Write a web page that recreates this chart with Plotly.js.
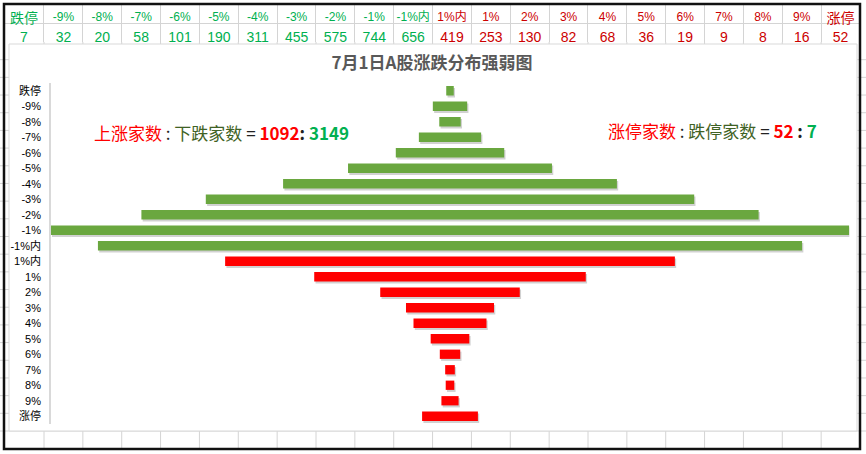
<!DOCTYPE html>
<html>
<head>
<meta charset="utf-8">
<script src="https://cdn.plot.ly/plotly-3.0.1.min.js"></script>
<style>
  html, body { margin: 0; padding: 0; background: #fff; }
  #chart { width: 866px; height: 454px; }
</style>
</head>
<body>
<div id="chart"></div>
<script>
// 涨跌幅区间 and 家数
var bands = ['跌停', '-9%', '-8%', '-7%', '-6%', '-5%', '-4%', '-3%', '-2%', '-1%', '-1%内',
             '1%内', '1%', '2%', '3%', '4%', '5%', '6%', '7%', '8%', '9%', '涨停'];
var counts = [7, 32, 20, 58, 101, 190, 311, 455, 575, 744, 656,
              419, 253, 130, 82, 68, 36, 19, 9, 8, 16, 52];
var nDown = 11; // first 11 bands are falling

var W = 866, H = 454;
function px(x) { return x / W; }
function py(y) { return 1 - y / H; }

var GREEN_BAR = '#6aa73f';
var RED_BAR = '#ff0000';
var GREEN_TXT = '#00b050';
var RED_TXT = '#cc0000';

var barColors = bands.map(function (b, i) { return i < nDown ? GREEN_BAR : RED_BAR; });
var txtColors = bands.map(function (b, i) { return i < nDown ? GREEN_TXT : RED_TXT; });
var bases = counts.map(function (v) { return -v / 2; });

var upTotal = 0, downTotal = 0;
counts.forEach(function (v, i) { if (i < nDown) downTotal += v; else upTotal += v; });
var limitUp = counts[counts.length - 1], limitDown = counts[0];

// soft drop shadow under the bars (excel style)
var shadow = {
  type: 'bar', orientation: 'h',
  y: bands, x: counts, base: bases.map(function (b) { return b + 1.2; }),
  width: 0.6, offset: -0.3 + 0.13,
  marker: { color: 'rgba(0,0,0,0.18)' },
  hoverinfo: 'skip', showlegend: false,
  xaxis: 'x', yaxis: 'y'
};

var bars = {
  type: 'bar', orientation: 'h',
  y: bands, x: counts, base: bases,
  width: 0.6,
  marker: { color: barColors },
  hoverinfo: 'y+text', text: counts.map(String), textposition: 'none',
  showlegend: false,
  xaxis: 'x', yaxis: 'y'
};

// top table
var colW = [40];
for (var i = 1; i < bands.length; i++) colW.push(38.86);
var hdrSizes = bands.map(function (b) { return (b === '跌停' || b === '涨停') ? 14 : 12; });

var table = {
  type: 'table',
  domain: { x: [px(4), px(860)], y: [py(42), py(4)] },
  columnwidth: colW,
  header: {
    values: bands.map(function (b) { return [b]; }),
    height: 19,
    align: 'center',
    line: { color: '#d4d4d4', width: 1 },
    fill: { color: '#ffffff' },
    font: { family: 'Liberation Sans, Noto Sans CJK SC', size: hdrSizes, color: txtColors }
  },
  cells: {
    values: counts.map(function (v) { return [v]; }),
    height: 19,
    align: 'center',
    line: { color: '#d4d4d4', width: 1 },
    fill: { color: '#ffffff' },
    font: { family: 'Liberation Sans, Noto Sans CJK SC', size: 14, color: txtColors }
  }
};

// spreadsheet grid behind the chart box
var shapes = [];
var colEdges = [4, 44];
for (var k = 1; k <= 21; k++) colEdges.push(44 + k * 816 / 21);
colEdges.forEach(function (x) {
  shapes.push({ type: 'line', xref: 'paper', yref: 'paper', layer: 'below',
    x0: px(x), x1: px(x), y0: py(42), y1: py(449), line: { color: '#d4d4d4', width: 1 } });
});
for (var r = 1; r <= 22; r++) {
  var yy = 42 + r * 389 / 22;
  shapes.push({ type: 'line', xref: 'paper', yref: 'paper', layer: 'below',
    x0: px(0), x1: px(866), y0: py(yy), y1: py(yy), line: { color: '#d4d4d4', width: 1 } });
}
// chart box
shapes.push({ type: 'rect', xref: 'paper', yref: 'paper', layer: 'below',
  x0: px(9), x1: px(857), y0: py(431), y1: py(44),
  fillcolor: '#ffffff', line: { color: '#d9d9d9', width: 1 } });
// thick outer border
shapes.push({ type: 'rect', xref: 'paper', yref: 'paper', layer: 'above',
  x0: px(4), x1: px(860), y0: py(449), y1: py(4),
  line: { color: '#111111', width: 2.5 } });

var sep = '<span style="color:#222222"> : </span>';
var annotations = [
  {
    xref: 'paper', yref: 'paper', x: px(92), y: py(132), xanchor: 'left', yanchor: 'middle',
    showarrow: false,
    font: { family: 'Noto Sans CJK SC', size: 17, color: '#222222' },
    text: '<span style="color:#ff0000">上涨家数</span>' + sep +
          '<span style="color:#3f6224">下跌家数</span> = ' +
          '<b><span style="color:#ff0000">' + upTotal + '</span>:</b> ' +
          '<b><span style="color:#00b050">' + downTotal + '</span></b>'
  },
  {
    xref: 'paper', yref: 'paper', x: px(606), y: py(130), xanchor: 'left', yanchor: 'middle',
    showarrow: false,
    font: { family: 'Noto Sans CJK SC', size: 17, color: '#222222' },
    text: '<span style="color:#ff0000">涨停家数</span>' + sep +
          '<span style="color:#3f6224">跌停家数</span> = ' +
          '<b><span style="color:#ff0000">' + limitUp + '</span> : ' +
          '<span style="color:#00b050">' + limitDown + '</span></b>'
  }
];

var layout = {
  width: W, height: H,
  margin: { l: 0, r: 0, t: 0, b: 0 },
  paper_bgcolor: '#ffffff',
  plot_bgcolor: 'rgba(0,0,0,0)',
  barmode: 'overlay',
  showlegend: false,
  title: {
    text: '<b>7月1日A股涨跌分布强弱图</b>',
    x: px(432), xanchor: 'center', y: py(63), yanchor: 'middle',
    font: { family: 'Noto Sans CJK SC', size: 17, color: '#595959' }
  },
  xaxis: {
    domain: [px(50.7), px(849.3)],
    range: [-372, 372],
    visible: false, fixedrange: true
  },
  yaxis: {
    domain: [py(424), py(83)],
    type: 'category',
    range: [21.5, -0.5],
    showgrid: false, zeroline: false,
    showline: true, linecolor: '#d9d9d9', linewidth: 1.5,
    ticks: '', ticklabelstandoff: 6,
    tickfont: { family: 'Liberation Sans, Noto Sans CJK SC', size: 11, color: '#000000' },
    fixedrange: true
  },
  shapes: shapes,
  annotations: annotations
};

Plotly.newPlot('chart', [table, shadow, bars], layout, { displayModeBar: false, staticPlot: true });
</script>
</body>
</html>
